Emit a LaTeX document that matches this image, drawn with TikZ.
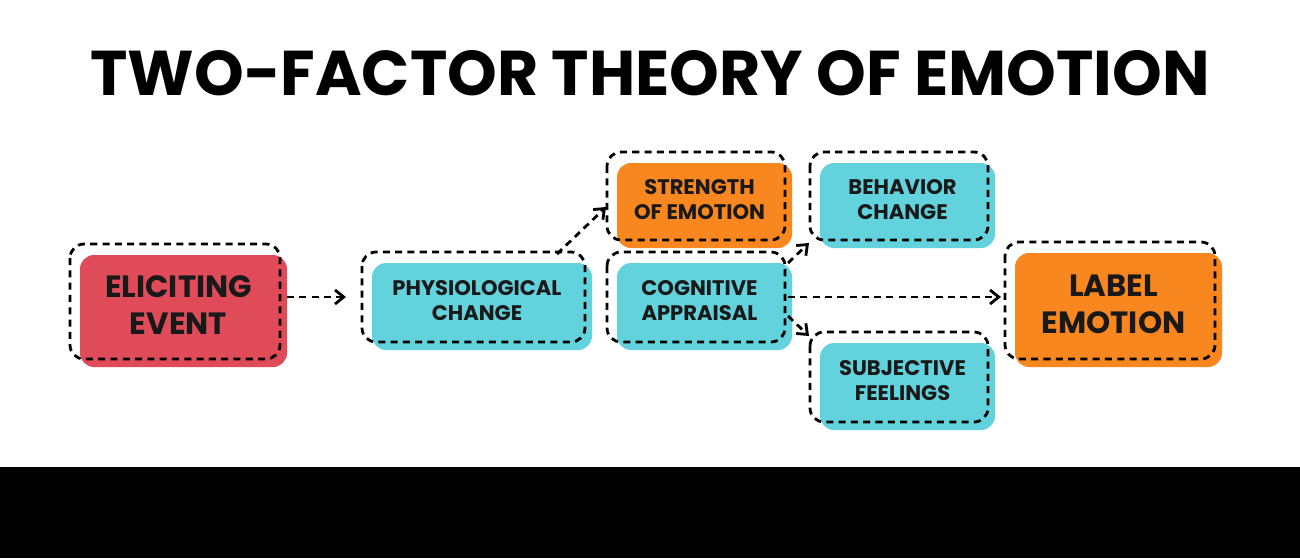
\documentclass[tikz,border=0pt]{standalone}
\usepackage{fontspec}
\setmainfont{Poppins}
\usetikzlibrary{arrows.meta}
\definecolor{cred}{HTML}{E04B5A}
\definecolor{ccyan}{HTML}{62D2DD}
\definecolor{corange}{HTML}{F7871E}
\begin{document}
\begin{tikzpicture}[x=0.02cm,y=-0.02cm,
  fillbox/.style={rounded corners=8pt},
  dashbox/.style={draw=black,line width=1.6pt,dash pattern=on 4pt off 3pt,rounded corners=8pt},
  lbl/.style={font=\bfseries\fontsize{12}{14.5}\selectfont,align=center,text=black!90},
  biglbl/.style={font=\bfseries\fontsize{17.5}{21}\selectfont,align=center,text=black!90},
  arr/.style={line width=1.6pt,dash pattern=on 4pt off 3pt,-{Straight Barb[length=5pt,width=8pt]}}]
\useasboundingbox (0,0) rectangle (1300,558);
\fill[black] (0,467) rectangle (1300,558);
\node[font=\bfseries\fontsize{36}{40}\selectfont] (title) at (650,73) {TWO-FACTOR THEORY OF EMOTION};
% boxes
\newcommand{\mybox}[8]{%
  \fill[fillbox,#5] (#1,#2) rectangle (#3,#4);
  \draw[dashbox] (#1-10,#2-11) rectangle (#3-7,#4-8);
  \node[#6] (#7) at ({(#1+#3)/2-5},{(#2+#4)/2-6}) {#8};}
\mybox{80}{255}{287}{367}{cred}{biglbl}{ev}{ELICITING\\EVENT}
\mybox{372}{263}{592}{350}{ccyan}{lbl}{phys}{PHYSIOLOGICAL\\CHANGE}
\mybox{617}{163}{792}{248}{corange}{lbl}{str}{STRENGTH\\OF EMOTION}
\mybox{617}{263}{792}{350}{ccyan}{lbl}{cog}{COGNITIVE\\APPRAISAL}
\mybox{820}{163}{995}{248}{ccyan}{lbl}{beh}{BEHAVIOR\\CHANGE}
\mybox{820}{343}{995}{430}{ccyan}{lbl}{subj}{SUBJECTIVE\\FEELINGS}
\mybox{1015}{253}{1222}{367}{corange}{biglbl}{lab}{LABEL\\EMOTION}
\coordinate (a1) at (287,297); \coordinate (a2) at (346,297);
\draw[arr] (a1) -- (a2);
\coordinate (b1) at (557,254); \coordinate (b2) at (606,207);
\draw[arr] (b1) -- (b2);
\coordinate (c1) at (788,297); \coordinate (c2) at (1001,297);
\draw[arr] (c1) -- (c2);
\coordinate (d1) at (788,263); \coordinate (d2) at (809,243);
\draw[arr] (d1) -- (d2);
\coordinate (e1) at (788,316); \coordinate (e2) at (809,336);
\draw[arr] (e1) -- (e2);
\end{tikzpicture}
\end{document}
